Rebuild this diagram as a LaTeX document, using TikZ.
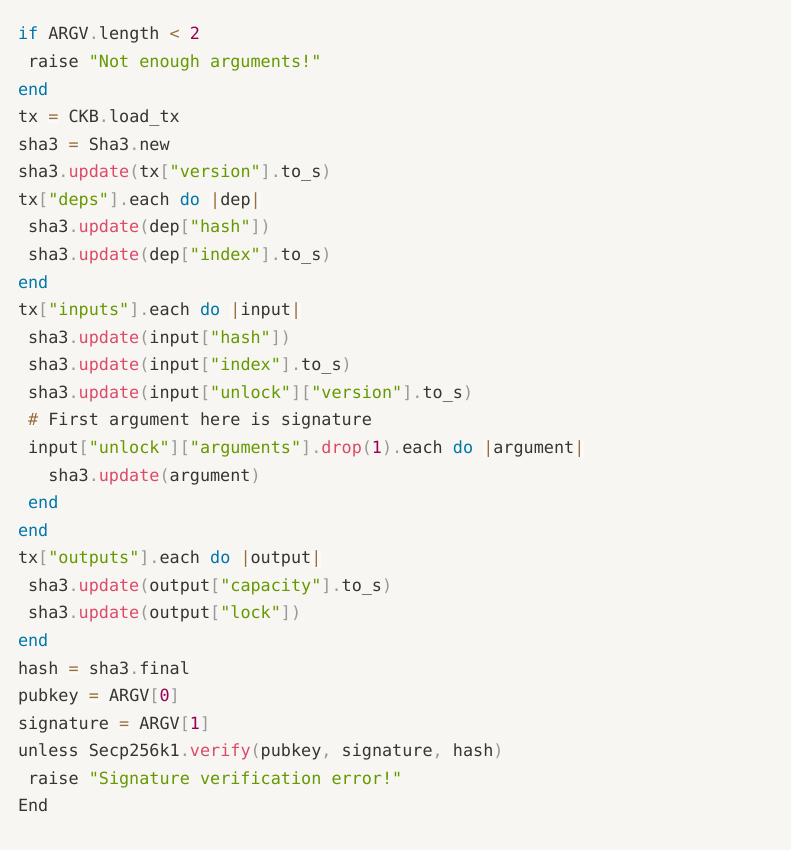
\documentclass[tikz,border=0pt]{standalone}
\usepackage{fontspec}
\setmonofont{DejaVu Sans Mono}
\usepackage{xcolor}
\definecolor{bgc}{HTML}{F7F6F3}
\definecolor{txt}{HTML}{37352F}
\definecolor{kwc}{HTML}{0077AA}
\definecolor{strc}{HTML}{669900}
\definecolor{fnc}{HTML}{DD4A68}
\definecolor{numc}{HTML}{990055}
\definecolor{puc}{HTML}{999999}
\definecolor{opc}{HTML}{9A6E3A}
\definecolor{opbg}{HTML}{FBFAF9}
\newcommand\ckw[1]{\textcolor{kwc}{#1}}
\newcommand\cstr[1]{\textcolor{strc}{#1}}
\newcommand\cfn[1]{\textcolor{fnc}{#1}}
\newcommand\cnum[1]{\textcolor{numc}{#1}}
\newcommand\cpu[1]{\textcolor{puc}{#1}}
\newcommand\cop[1]{{\setlength\fboxsep{0pt}\colorbox{opbg}{\textcolor{opc}{#1}}}}
\frenchspacing
\begin{document}
\begin{tikzpicture}[x=1pt,y=1pt,
  codeline/.style={anchor=base west,inner sep=0pt,outer sep=0pt,text=txt,
    font=\ttfamily\fontsize{16.8}{20}\selectfont}]
\fill[bgc] (0,0) rectangle (791,-850);
\useasboundingbox (0,0) rectangle (791,-850);
\begin{scope}[yshift=-1.6pt]
\node[codeline] (l1) at (18,-38.30) {\ckw{if} ARGV\cpu{.}length \cop{<} \cnum{2}};
\node[codeline] (l2) at (28.1,-65.87) {raise \cstr{"Not enough arguments!"}};
\node[codeline] (l3) at (18,-93.44) {\ckw{end}};
\node[codeline] (l4) at (18,-121.01) {tx \cop{=} CKB\cpu{.}load\_tx};
\node[codeline] (l5) at (18,-148.58) {sha3 \cop{=} Sha3\cpu{.}new};
\node[codeline] (l6) at (18,-176.15) {sha3\cpu{.}\cfn{update}\cpu{(}tx\cpu{[}\cstr{"version"}\cpu{]}\cpu{.}to\_s\cpu{)}};
\node[codeline] (l7) at (18,-203.72) {tx\cpu{[}\cstr{"deps"}\cpu{]}\cpu{.}each \ckw{do} \cop{|}dep\cop{|}};
\node[codeline] (l8) at (28.1,-231.29) {sha3\cpu{.}\cfn{update}\cpu{(}dep\cpu{[}\cstr{"hash"}\cpu{])}};
\node[codeline] (l9) at (28.1,-258.86) {sha3\cpu{.}\cfn{update}\cpu{(}dep\cpu{[}\cstr{"index"}\cpu{]}\cpu{.}to\_s\cpu{)}};
\node[codeline] (l10) at (18,-286.43) {\ckw{end}};
\node[codeline] (l11) at (18,-314.00) {tx\cpu{[}\cstr{"inputs"}\cpu{]}\cpu{.}each \ckw{do} \cop{|}input\cop{|}};
\node[codeline] (l12) at (28.1,-341.57) {sha3\cpu{.}\cfn{update}\cpu{(}input\cpu{[}\cstr{"hash"}\cpu{])}};
\node[codeline] (l13) at (28.1,-369.14) {sha3\cpu{.}\cfn{update}\cpu{(}input\cpu{[}\cstr{"index"}\cpu{]}\cpu{.}to\_s\cpu{)}};
\node[codeline] (l14) at (28.1,-396.71) {sha3\cpu{.}\cfn{update}\cpu{(}input\cpu{[}\cstr{"unlock"}\cpu{][}\cstr{"version"}\cpu{]}\cpu{.}to\_s\cpu{)}};
\node[codeline] (l15) at (28.1,-424.28) {\cop{\#} First argument here is signature};
\node[codeline] (l16) at (28.1,-451.85) {input\cpu{[}\cstr{"unlock"}\cpu{][}\cstr{"arguments"}\cpu{]}\cpu{.}\cfn{drop}\cpu{(}\cnum{1}\cpu{)}\cpu{.}each \ckw{do} \cop{|}argument\cop{|}};
\node[codeline] (l17) at (48.3,-479.42) {sha3\cpu{.}\cfn{update}\cpu{(}argument\cpu{)}};
\node[codeline] (l18) at (28.1,-506.99) {\ckw{end}};
\node[codeline] (l19) at (18,-534.56) {\ckw{end}};
\node[codeline] (l20) at (18,-562.13) {tx\cpu{[}\cstr{"outputs"}\cpu{]}\cpu{.}each \ckw{do} \cop{|}output\cop{|}};
\node[codeline] (l21) at (28.1,-589.70) {sha3\cpu{.}\cfn{update}\cpu{(}output\cpu{[}\cstr{"capacity"}\cpu{]}\cpu{.}to\_s\cpu{)}};
\node[codeline] (l22) at (28.1,-617.27) {sha3\cpu{.}\cfn{update}\cpu{(}output\cpu{[}\cstr{"lock"}\cpu{])}};
\node[codeline] (l23) at (18,-644.84) {\ckw{end}};
\node[codeline] (l24) at (18,-672.41) {hash \cop{=} sha3\cpu{.}final};
\node[codeline] (l25) at (18,-699.98) {pubkey \cop{=} ARGV\cpu{[}\cnum{0}\cpu{]}};
\node[codeline] (l26) at (18,-727.55) {signature \cop{=} ARGV\cpu{[}\cnum{1}\cpu{]}};
\node[codeline] (l27) at (18,-755.12) {unless Secp256k1\cpu{.}\cfn{verify}\cpu{(}pubkey\cpu{,} signature\cpu{,} hash\cpu{)}};
\node[codeline] (l28) at (28.1,-782.69) {raise \cstr{"Signature verification error!"}};
\node[codeline] (l29) at (18,-810.26) {End};
\end{scope}
\end{tikzpicture}
\end{document}
